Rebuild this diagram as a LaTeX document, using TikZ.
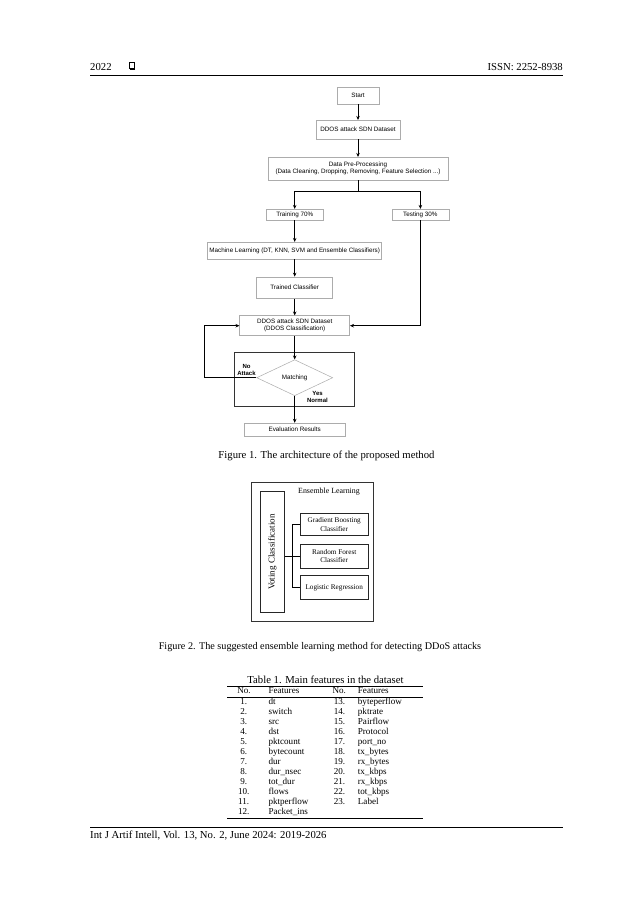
\documentclass[tikz,border=0pt]{standalone}
\usepackage{fontspec}
\setmainfont{Liberation Serif}
\newfontfamily\arialfont{Liberation Sans}
\usepackage{tikz}
\usetikzlibrary{shapes, arrows.meta, positioning, calc}
\newcommand{\pagefont}{\fontsize{10.7}{12.8}\selectfont}
\newcommand{\capfont}{\fontsize{10.2}{12.2}\selectfont}
\newcommand{\flowfont}{\arialfont\fontsize{6.3}{7}\selectfont}
\newcommand{\flowlabelfont}{\arialfont\bfseries\fontsize{6}{7.2}\selectfont}
\newcommand{\enstitlefont}{\fontsize{7.9}{9}\selectfont}
\newcommand{\ensfont}{\fontsize{7.2}{8.3}\selectfont}
\newcommand{\votefont}{\fontsize{9}{10}\selectfont}
\newcommand{\tabfont}{\fontsize{9.1}{10}\selectfont}
\tikzstyle{flowbox} = [rectangle, draw=gray!65, line width=0.5pt, inner sep=0pt, align=center, font=\flowfont]
\tikzstyle{decision} = [diamond, draw=gray!65, line width=0.5pt, inner sep=0pt, font=\flowfont]
\tikzstyle{outerbox} = [rectangle, draw=black!80, line width=0.9pt, inner sep=0pt]
\tikzstyle{ensbox} = [rectangle, draw=black!85, line width=0.7pt, inner sep=0pt, align=center, font=\ensfont]
\tikzstyle{flowlabel} = [inner sep=0pt, align=center, font=\flowlabelfont]
\tikzstyle{arrow} = [-{Stealth[length=4pt,width=3.5pt]}, line width=0.8pt]
\tikzstyle{caption} = [inner sep=0pt, font=\pagefont]
\tikzstyle{tabnum} = [inner sep=0pt, text height=6pt, text depth=1.5pt, font=\tabfont]
\tikzstyle{tabfeat} = [anchor=west, inner sep=0pt, text height=6pt, text depth=1.5pt, font=\tabfont]

\begin{document}
\begin{tikzpicture}[x=1pt, y=-1pt, node distance=40pt]
\fill[white] (0,0) rectangle (638,902);
% page header
\node (year) [caption, anchor=west] at (90,67) {2022};
\draw[line width=0.5pt] (129.5,62.5) rectangle (134,68.5);
\draw[line width=1.1pt] (130.4,69.3) -- (134.8,69.3) -- (134.8,63.4);
\node (issn) [caption, anchor=east] at (563,67) {ISSN: 2252-8938};
\draw[line width=0.9pt] (90,75) -- (563,75);
% figure 1
\node (start) [flowbox, minimum width=42pt, minimum height=17pt] at (358,95.7) {Start};
\node (dataset) [flowbox, below of=start, yshift=6pt, minimum width=84pt, minimum height=19pt] {DDOS attack SDN Dataset};
\node (prep) [flowbox, below of=dataset, yshift=1pt, minimum width=180pt, minimum height=23pt] {Data Pre-Processing\\(Data Cleaning, Dropping, Removing, Feature Selection ...)};
\node (train) [flowbox, below of=prep, xshift=-63.3pt, yshift=-6pt, minimum width=57pt, minimum height=11pt] {Training 70\%};
\node (test) [flowbox, below of=prep, xshift=62.4pt, yshift=-6pt, minimum width=57pt, minimum height=11pt] {Testing 30\%};
\node (ml) [flowbox, below of=train, yshift=4pt, minimum width=174pt, minimum height=17pt] {Machine Learning (DT, KNN, SVM and Ensemble Classifiers)};
\node (trained) [flowbox, below of=ml, yshift=3pt, minimum width=76pt, minimum height=21.6pt] {Trained Classifier};
\node (classify) [flowbox, below of=trained, yshift=2pt, minimum width=110pt, minimum height=20pt] {DDOS attack SDN Dataset\\(DDOS Classification)};
\node (matchbox) [outerbox, minimum width=120pt, minimum height=54.4pt] at (294.3,379.5) {};
\node (match) [decision, below of=classify, yshift=-12pt, minimum width=76pt, minimum height=36pt] {Matching};
\node (eval) [flowbox, below of=match, yshift=-12pt, minimum width=100.7pt, minimum height=13.3pt] {Evaluation Results};
\node (noattack) [flowlabel] at (246.5,370) {No\\Attack};
\node (yesnormal) [flowlabel] at (317.5,397) {Yes\\Normal};
\coordinate (split) at (358,191.7);
\coordinate (noback) at (204,377.7);
\draw[arrow] (start) -- (dataset);
\draw[arrow] (dataset) -- (prep);
\draw[line width=0.8pt] (prep.south) -- (split);
\draw[arrow] (split) -| (train.north);
\draw[arrow] (split) -| (test.north);
\draw[arrow] (train) -- (ml);
\draw[arrow] (ml) -- (trained);
\draw[arrow] (trained) -- (classify);
\draw[arrow] (test.south) |- (classify.east);
\draw[arrow] (classify.south) -- (match.north);
\draw[arrow] (match.west) -- (noback) |- (classify.west);
\draw[arrow] (match.south) -- (eval.north);
\node (fig1cap) [caption] at (326.5,456) {Figure 1. The architecture of the proposed method};
% figure 2
\node (ensemble) [outerbox, minimum width=121.6pt, minimum height=139pt] at (312.5,552.2) {};
\node (enstitle) [inner sep=0pt, font=\enstitlefont] at (329,491.7) {Ensemble Learning};
\node (voting) [ensbox, font=\votefont, rotate=90, minimum width=121pt, minimum height=23.6pt] at (272.5,552.2) {Voting Classification};
\node (gbc) [ensbox, minimum width=68.3pt, minimum height=22.4pt] at (334.2,524.5) {Gradient Boosting\\Classifier};
\node (rfc) [ensbox, below of=gbc, yshift=8.5pt, minimum width=68.3pt, minimum height=24.3pt] {Random Forest\\Classifier};
\node (lrc) [ensbox, below of=rfc, yshift=8.5pt, minimum width=68.3pt, minimum height=24.3pt] {Logistic Regression};
\draw[line width=0.7pt] (rfc.west -| voting.south) -- (rfc.west);
\draw[line width=0.7pt] (gbc.west) -- ++(-7.7,0) |- (lrc.west);
\node (fig2cap) [caption, font=\capfont] at (320,647) {Figure 2. The suggested ensemble learning method for detecting DDoS attacks};
% table 1
\node (tabcap) [caption] at (325.5,680) {Table 1. Main features in the dataset};
\draw[line width=0.7pt] (227.3,686.5) -- (422.7,686.5);
\draw[line width=0.7pt] (227.3,697.3) -- (422.7,697.3);
\draw[line width=0.7pt] (227.3,818.3) -- (422.7,818.3);
\node (hno1) [tabnum] at (244,691.7) {No.};
\node (hfeat1) [tabfeat] at (268.3,691.7) {Features};
\node (hno2) [tabnum] at (339.3,691.7) {No.};
\node (hfeat2) [tabfeat] at (357.7,691.7) {Features};
\node (n1) [tabnum] at (243.7,702.3) {1.};
\node (f1) [tabfeat] at (268.3,702.3) {dt};
\node (n2) [tabnum] at (243.7,712.3) {2.};
\node (f2) [tabfeat] at (268.3,712.3) {switch};
\node (n3) [tabnum] at (243.7,722.3) {3.};
\node (f3) [tabfeat] at (268.3,722.3) {src};
\node (n4) [tabnum] at (243.7,732.3) {4.};
\node (f4) [tabfeat] at (268.3,732.3) {dst};
\node (n5) [tabnum] at (243.7,742.3) {5.};
\node (f5) [tabfeat] at (268.3,742.3) {pktcount};
\node (n6) [tabnum] at (243.7,752.3) {6.};
\node (f6) [tabfeat] at (268.3,752.3) {bytecount};
\node (n7) [tabnum] at (243.7,762.3) {7.};
\node (f7) [tabfeat] at (268.3,762.3) {dur};
\node (n8) [tabnum] at (243.7,772.3) {8.};
\node (f8) [tabfeat] at (268.3,772.3) {dur\_nsec};
\node (n9) [tabnum] at (243.7,782.3) {9.};
\node (f9) [tabfeat] at (268.3,782.3) {tot\_dur};
\node (n10) [tabnum] at (243.7,792.3) {10.};
\node (f10) [tabfeat] at (268.3,792.3) {flows};
\node (n11) [tabnum] at (243.7,802.3) {11.};
\node (f11) [tabfeat] at (268.3,802.3) {pktperflow};
\node (n12) [tabnum] at (243.7,812.3) {12.};
\node (f12) [tabfeat] at (268.3,812.3) {Packet\_ins};
\node (n13) [tabnum] at (339.5,702.3) {13.};
\node (f13) [tabfeat] at (357.7,702.3) {byteperflow};
\node (n14) [tabnum] at (339.5,712.3) {14.};
\node (f14) [tabfeat] at (357.7,712.3) {pktrate};
\node (n15) [tabnum] at (339.5,722.3) {15.};
\node (f15) [tabfeat] at (357.7,722.3) {Pairflow};
\node (n16) [tabnum] at (339.5,732.3) {16.};
\node (f16) [tabfeat] at (357.7,732.3) {Protocol};
\node (n17) [tabnum] at (339.5,742.3) {17.};
\node (f17) [tabfeat] at (357.7,742.3) {port\_no};
\node (n18) [tabnum] at (339.5,752.3) {18.};
\node (f18) [tabfeat] at (357.7,752.3) {tx\_bytes};
\node (n19) [tabnum] at (339.5,762.3) {19.};
\node (f19) [tabfeat] at (357.7,762.3) {rx\_bytes};
\node (n20) [tabnum] at (339.5,772.3) {20.};
\node (f20) [tabfeat] at (357.7,772.3) {tx\_kbps};
\node (n21) [tabnum] at (339.5,782.3) {21.};
\node (f21) [tabfeat] at (357.7,782.3) {rx\_kbps};
\node (n22) [tabnum] at (339.5,792.3) {22.};
\node (f22) [tabfeat] at (357.7,792.3) {tot\_kbps};
\node (n23) [tabnum] at (339.5,802.3) {23.};
\node (f23) [tabfeat] at (357.7,802.3) {Label};
% page footer
\draw[line width=0.9pt] (90,827.3) -- (563,827.3);
\node (footer) [caption, anchor=west] at (90,835.5) {Int J Artif Intell, Vol. 13, No. 2, June 2024: 2019-2026};
\end{tikzpicture}
\end{document}
